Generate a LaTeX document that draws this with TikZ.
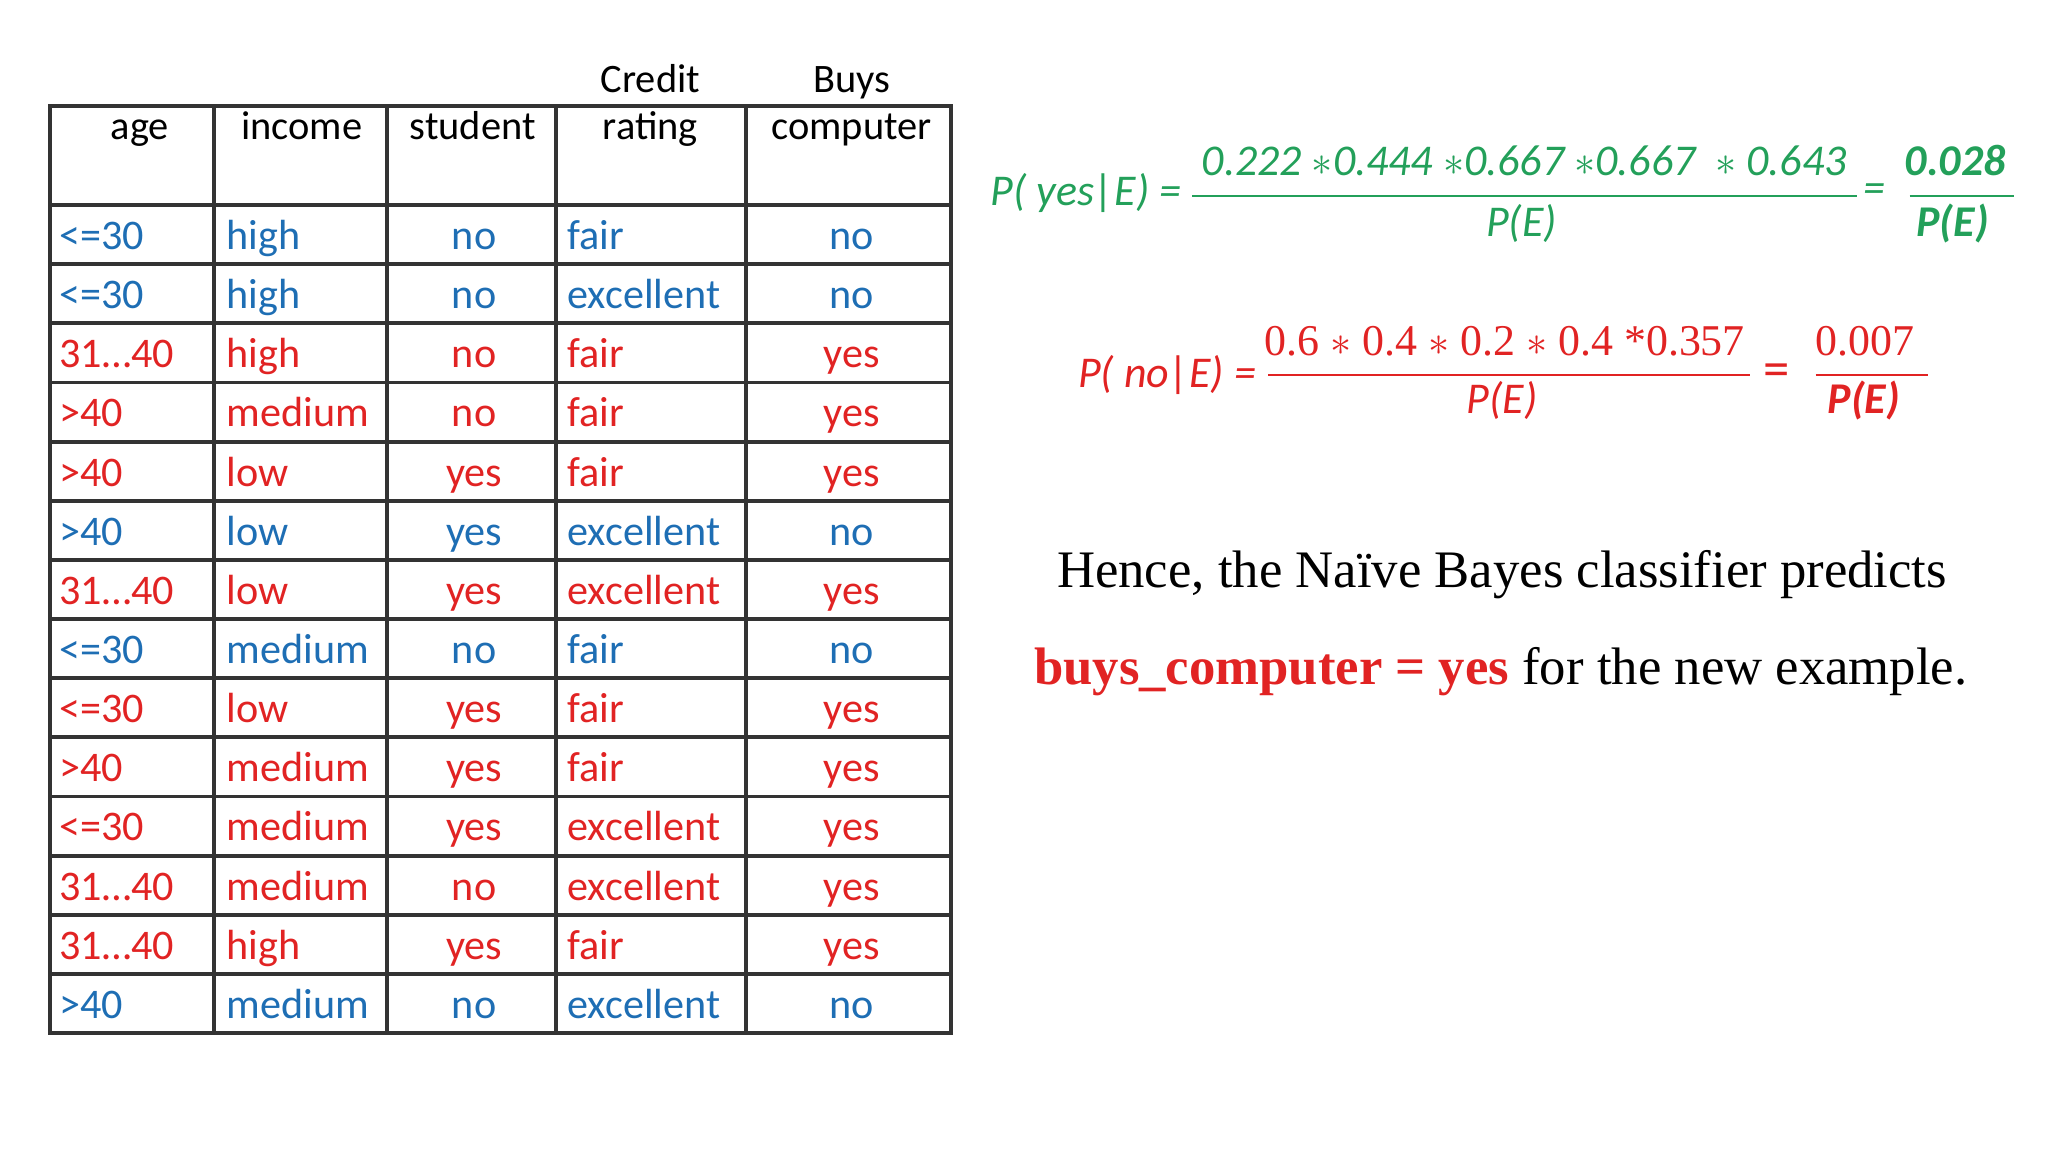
\documentclass[tikz,border=0pt]{standalone}
\usepackage{fontspec}
\setmainfont{Carlito}
\newfontfamily\tms{Liberation Serif}
\definecolor{cb}{RGB}{30,110,180}
\definecolor{cr}{RGB}{225,35,35}
\definecolor{cg}{RGB}{35,160,90}
\begin{document}
\begin{tikzpicture}[x=0.01306cm,y=-0.01306cm,
  cell/.style={font=\fontsize{12}{14}\selectfont,inner sep=0pt,anchor=base,text height=8pt,text depth=2pt},
  hd/.style={font=\fontsize{11.5}{13.4}\selectfont,align=center,inner sep=0pt,anchor=base},
  grid/.style={line width=1.1pt,black!80},
  fr/.style={inner sep=0pt}]
\useasboundingbox (0,0) rectangle (1568,882);
% grid
\draw[grid] (38,81) rectangle (728,791);
\foreach \x in {164,296,426,571} \draw[grid] (\x,81) -- (\x,791);
\foreach \i in {0,...,13} \draw[grid] (38,{157+45.286*\i}) -- (728,{157+45.286*\i});
% header
\node[hd] (h1) at (107,107) {age};
\node[hd] (h2) at (231,107) {income};
\node[hd] (h3) at (362,107) {student};
\node[hd] (h4) at (498,107) {Credit\\rating};
\node[hd] (h5) at (652,107) {Buys\\computer};
% rows
\foreach [count=\i] \a/\b/\c/\d/\e/\col in {
 <=30/high/no/fair/no/cb,
 <=30/high/no/excellent/no/cb,
 31\ldots40/high/no/fair/yes/cr,
 >40/medium/no/fair/yes/cr,
 >40/low/yes/fair/yes/cr,
 >40/low/yes/excellent/no/cb,
 31\ldots40/low/yes/excellent/yes/cr,
 <=30/medium/no/fair/no/cb,
 <=30/low/yes/fair/yes/cr,
 >40/medium/yes/fair/yes/cr,
 <=30/medium/yes/excellent/yes/cr,
 31\ldots40/medium/no/excellent/yes/cr,
 31\ldots40/high/yes/fair/yes/cr,
 >40/medium/no/excellent/no/cb}{
 \pgfmathsetmacro\yy{191+45.286*(\i-1)}
 \node[cell,text=\col,anchor=base west] (a\i) at (45,\yy) {\a};
 \node[cell,text=\col,anchor=base west] (b\i) at (173,\yy) {\b};
 \node[cell,text=\col] (c\i) at (363,\yy) {\c};
 \node[cell,text=\col,anchor=base west] (d\i) at (434,\yy) {\d};
 \node[cell,text=\col] (e\i) at (652,\yy) {\e};
}
% formula yes
\begin{scope}[cg, every node/.style={font=\fontsize{12.5}{14}\selectfont\itshape,inner sep=0pt}]
\node[anchor=west] (py) at (758,148) {P( yes|E) =};
\node (ny) at (1167,123) {0.222 $\ast$0.444 $\ast$0.667 $\ast$0.667 \ $\ast$ 0.643};
\draw[line width=0.6pt] (913,150) -- (1422,150);
\node (dy) at (1165,171) {P(E)};
\node (eqy) at (1435,148) {=};
\node[font=\fontsize{12.5}{14}\selectfont\bfseries\itshape] (ry) at (1497,123) {0.028};
\draw[line width=0.6pt] (1462,150) -- (1542,150);
\node[font=\fontsize{12.5}{14}\selectfont\bfseries\itshape] (rdy) at (1495,171) {P(E)};
\end{scope}
% formula no
\begin{scope}[cr, every node/.style={font=\fontsize{12.5}{14}\selectfont\itshape,inner sep=0pt}]
\node[anchor=west] (pn) at (825,287) {P( no|E) =};
\node[font=\tms\fontsize{12.5}{14}\selectfont] (nn) at (1152,261) {0.6 $\ast$ 0.4 $\ast$ 0.2 $\ast$ 0.4 *0.357};
\draw[line width=0.6pt] (971,287) -- (1340,287);
\node (dn) at (1150,307) {P(E)};
\node[font=\fontsize{15}{16}\selectfont] (eqn) at (1360,287) {=};
\node[font=\tms\fontsize{12.5}{14}\selectfont] (rn) at (1428,261) {0.007};
\draw[line width=0.6pt] (1390,287) -- (1476,287);
\node[font=\fontsize{12.5}{14}\selectfont\bfseries\itshape] (rdn) at (1427,307) {P(E)};
\end{scope}
% text
\node[fr,font=\tms\fontsize{15}{18}\selectfont] (t1) at (1150,440) {Hence, the Naïve Bayes classifier predicts};
\node[fr,font=\tms\fontsize{15}{18}\selectfont] (t2) at (1149,514) {\textcolor{cr}{\textbf{buys\_computer = yes}} for the new example.};
\end{tikzpicture}
\end{document}
